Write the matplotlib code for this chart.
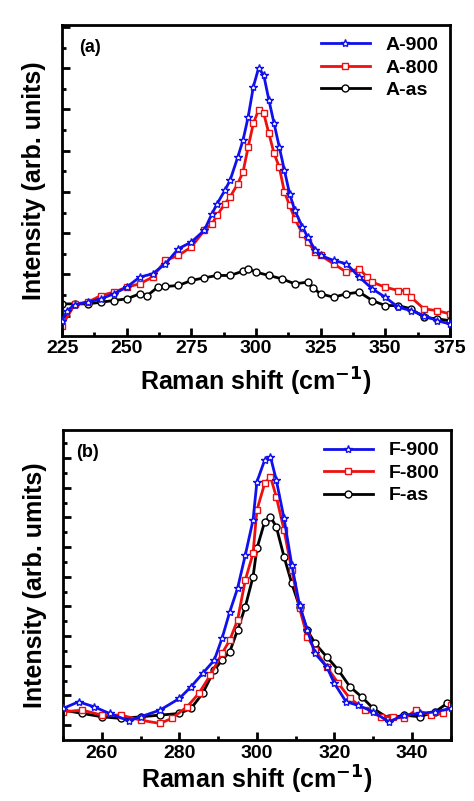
import matplotlib
matplotlib.use("Agg")
import matplotlib.pyplot as plt
from matplotlib.ticker import MultipleLocator, FixedLocator
import numpy as np

plt.rcParams['font.family'] = ['Liberation Sans', 'DejaVu Sans']
plt.rcParams['font.weight'] = 'bold'

# Panel (a)
a900_x = [225,227,230,235,240,245,250,255,260,265,270,275,280,283,285,288,290,293,295,297,299,301,303,305,307,309,311,313,315,318,320,323,325,330,335,340,345,350,355,360,365,370,375]
a900_y = [45,75,93,100,110,125,145,175,185,215,260,280,315,365,395,435,465,535,585,655,745,800,780,705,635,565,495,425,375,325,295,255,240,225,215,175,140,115,85,75,60,45,35]
a800_x = [225,230,235,240,245,250,255,260,265,270,275,280,283,285,288,290,293,295,297,299,301,303,305,307,309,311,313,315,318,320,323,325,330,335,340,343,345,350,355,358,360,365,370,375]
a800_y = [30,95,100,120,130,145,155,175,225,240,265,315,335,360,395,415,455,490,565,635,675,665,605,545,505,430,390,350,305,280,250,240,215,190,200,175,160,145,135,135,115,80,75,65]
aas_x = [225,230,235,240,245,250,255,258,262,265,270,275,280,285,290,295,297,300,305,310,315,320,322,325,330,335,340,345,350,355,360,365,370,375]
aas_y = [95,95,95,100,105,110,125,120,145,147,150,165,173,180,180,193,200,190,180,170,155,160,143,125,115,125,130,105,90,90,80,55,50,45]

# Panel (b)
f900_x = [250,254,258,262,267,270,275,280,283,286,289,291,293,295,297,299,300,302,303.5,305,307,309,311,313,315,318,320,323,326,330,334,338,342,346,350]
f900_y = [95,115,100,80,58,70,90,125,160,200,240,305,385,455,555,660,775,840,850,780,665,525,405,330,260,220,170,115,105,85,55,75,80,85,95]
f800_x = [250,255,260,265,270,275,278,282,285,288,291,293,295,297,299,300,302,303.5,305,307,309,311,313,315,318,321,324,328,332,335,338,341,345,348,350]
f800_y = [85,90,75,75,60,50,65,100,140,195,260,300,360,480,560,690,770,790,730,630,510,395,310,270,220,170,125,90,70,70,65,90,75,80,105]
fas_x = [250,255,260,265,270,275,280,283,286,289,291,293,295,297,299,300,302,303.5,305,307,309,311,313,315,318,321,324,327,330,334,338,342,346,349]
fas_y = [90,80,70,65,70,75,80,95,140,210,240,265,330,400,490,575,655,670,640,550,470,400,330,290,250,210,160,130,95,65,75,70,85,110]

fig = plt.figure(figsize=(4.74, 8.01), dpi=100)
ax1 = fig.add_axes([0.131, 0.581, 0.818, 0.388])
ax2 = fig.add_axes([0.133, 0.076, 0.818, 0.387])

def style(ax):
    for s in ax.spines.values():
        s.set_linewidth(2)
    ax.tick_params(which='both', direction='in', width=2, labelsize=14, top=False, right=False)
    ax.tick_params(which='major', length=6)
    ax.tick_params(which='minor', length=3)
    ax.set_yticklabels([])
    for l in ax.get_xticklabels():
        l.set_fontweight('bold')

mk = dict(markerfacecolor='white', markersize=6, linewidth=2, markeredgewidth=1)
ax1.plot(a900_x, a900_y, color='#1010ee', marker='*', label='A-900', zorder=3, **mk)
ax1.plot(a800_x, a800_y, color='#ee1010', marker='s', label='A-800', zorder=2, **{**mk, 'markersize': 5})
ax1.plot(aas_x, aas_y, color='black', marker='o', label='A-as', zorder=1, **{**mk, 'markersize': 5})
ax1.set_xlim(225, 375)
ax1.set_ylim(0, 930)
ax1.xaxis.set_major_locator(MultipleLocator(25))
ax1.xaxis.set_minor_locator(MultipleLocator(12.5))
ax1.yaxis.set_major_locator(FixedLocator([59.5 + 123.5 * k for k in range(8)]))
ax1.yaxis.set_minor_locator(FixedLocator([121 + 123.5 * k for k in range(7)]))
style(ax1)
ax1.set_xlabel('Raman shift (cm$^{\\mathbf{-1}}$)', fontsize=18, fontweight='bold', labelpad=6)
ax1.set_ylabel('Intensity (arb. units)', fontsize=18, fontweight='bold', labelpad=8)
ax1.text(0.045, 0.955, '(a)', transform=ax1.transAxes, fontsize=13, fontweight='bold', va='top')
ax1.legend(loc='upper right', frameon=False, fontsize=14, handlelength=2.5, borderaxespad=0.2, labelspacing=0.25)

ax2.plot(f900_x, f900_y, color='#1010ee', marker='*', label='F-900', zorder=3, **mk)
ax2.plot(f800_x, f800_y, color='#ee1010', marker='s', label='F-800', zorder=2, **{**mk, 'markersize': 5})
ax2.plot(fas_x, fas_y, color='black', marker='o', label='F-as', zorder=1, **{**mk, 'markersize': 5})
ax2.set_xlim(250, 350)
ax2.set_ylim(0, 930)
ax2.xaxis.set_major_locator(MultipleLocator(20))
ax2.xaxis.set_minor_locator(MultipleLocator(10))
ax2.yaxis.set_major_locator(FixedLocator([45 + 89 * k for k in range(11)]))
ax2.yaxis.set_minor_locator(FixedLocator([89.5 + 89 * k for k in range(10)]))
style(ax2)
ax2.set_xlabel('Raman shift (cm$^{\\mathbf{-1}}$)', fontsize=18, fontweight='bold', labelpad=1)
ax2.set_ylabel('Intensity (arb. umits)', fontsize=18, fontweight='bold', labelpad=8)
ax2.text(0.035, 0.955, '(b)', transform=ax2.transAxes, fontsize=13, fontweight='bold', va='top')
ax2.legend(loc='upper right', frameon=False, fontsize=14, handlelength=2.5, borderaxespad=0.2, labelspacing=0.25)

fig.savefig('out.png', dpi=100)
